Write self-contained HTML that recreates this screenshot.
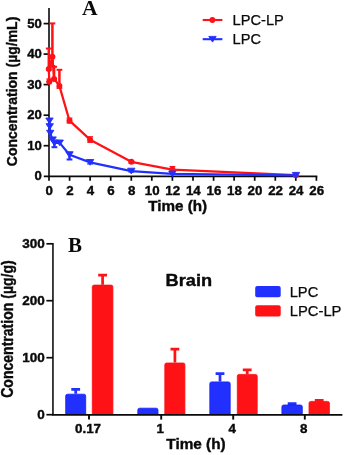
<!DOCTYPE html><html><head><meta charset="utf-8"><title>chart</title><style>html,body{margin:0;padding:0;background:#fff}svg{display:block;filter:blur(.35px)}text{font-family:"Liberation Sans",Arial,sans-serif}.b{font-weight:bold;stroke:#0a0a0a;stroke-width:.4px}.r{stroke:#0a0a0a;stroke-width:.25px}.s{font-family:"Liberation Serif","Times New Roman",serif;font-weight:bold}</style></head><body>
<svg width="346" height="455" viewBox="0 0 346 455">
<rect width="346" height="455" fill="#fff"/>
<g id="A">
<path d="M49.0 8V177.2M43.8 176.4H317.3" stroke="#0a0a0a" stroke-width="1.6" fill="none"/>
<text class="b" x="41.8" y="180.2" font-size="13.1" text-anchor="end" fill="#0a0a0a">0</text>
<path d="M43.6 145.7H49.0" stroke="#0a0a0a" stroke-width="1.7"/>
<text class="b" x="41.8" y="149.7" font-size="13.1" text-anchor="end" fill="#0a0a0a">10</text>
<path d="M43.6 115.2H49.0" stroke="#0a0a0a" stroke-width="1.7"/>
<text class="b" x="41.8" y="119.2" font-size="13.1" text-anchor="end" fill="#0a0a0a">20</text>
<path d="M43.6 84.6H49.0" stroke="#0a0a0a" stroke-width="1.7"/>
<text class="b" x="41.8" y="88.6" font-size="13.1" text-anchor="end" fill="#0a0a0a">30</text>
<path d="M43.6 54.1H49.0" stroke="#0a0a0a" stroke-width="1.7"/>
<text class="b" x="41.8" y="58.1" font-size="13.1" text-anchor="end" fill="#0a0a0a">40</text>
<path d="M43.6 23.6H49.0" stroke="#0a0a0a" stroke-width="1.7"/>
<text class="b" x="41.8" y="27.6" font-size="13.1" text-anchor="end" fill="#0a0a0a">50</text>
<path d="M49.0 176.4V180.8" stroke="#0a0a0a" stroke-width="1.7"/>
<text class="b" x="49.3" y="194.7" font-size="13.3" text-anchor="middle" fill="#0a0a0a">0</text>
<path d="M69.6 176.4V180.8" stroke="#0a0a0a" stroke-width="1.7"/>
<text class="b" x="69.9" y="194.7" font-size="13.3" text-anchor="middle" fill="#0a0a0a">2</text>
<path d="M90.1 176.4V180.8" stroke="#0a0a0a" stroke-width="1.7"/>
<text class="b" x="90.4" y="194.7" font-size="13.3" text-anchor="middle" fill="#0a0a0a">4</text>
<path d="M110.7 176.4V180.8" stroke="#0a0a0a" stroke-width="1.7"/>
<text class="b" x="111.0" y="194.7" font-size="13.3" text-anchor="middle" fill="#0a0a0a">6</text>
<path d="M131.3 176.4V180.8" stroke="#0a0a0a" stroke-width="1.7"/>
<text class="b" x="131.6" y="194.7" font-size="13.3" text-anchor="middle" fill="#0a0a0a">8</text>
<path d="M151.8 176.4V180.8" stroke="#0a0a0a" stroke-width="1.7"/>
<text class="b" x="152.2" y="194.7" font-size="13.3" text-anchor="middle" fill="#0a0a0a">10</text>
<path d="M172.4 176.4V180.8" stroke="#0a0a0a" stroke-width="1.7"/>
<text class="b" x="172.7" y="194.7" font-size="13.3" text-anchor="middle" fill="#0a0a0a">12</text>
<path d="M193.0 176.4V180.8" stroke="#0a0a0a" stroke-width="1.7"/>
<text class="b" x="193.3" y="194.7" font-size="13.3" text-anchor="middle" fill="#0a0a0a">14</text>
<path d="M213.6 176.4V180.8" stroke="#0a0a0a" stroke-width="1.7"/>
<text class="b" x="213.9" y="194.7" font-size="13.3" text-anchor="middle" fill="#0a0a0a">16</text>
<path d="M234.1 176.4V180.8" stroke="#0a0a0a" stroke-width="1.7"/>
<text class="b" x="234.4" y="194.7" font-size="13.3" text-anchor="middle" fill="#0a0a0a">18</text>
<path d="M254.7 176.4V180.8" stroke="#0a0a0a" stroke-width="1.7"/>
<text class="b" x="255.0" y="194.7" font-size="13.3" text-anchor="middle" fill="#0a0a0a">20</text>
<path d="M275.3 176.4V180.8" stroke="#0a0a0a" stroke-width="1.7"/>
<text class="b" x="275.6" y="194.7" font-size="13.3" text-anchor="middle" fill="#0a0a0a">22</text>
<path d="M295.8 176.4V180.8" stroke="#0a0a0a" stroke-width="1.7"/>
<text class="b" x="296.1" y="194.7" font-size="13.3" text-anchor="middle" fill="#0a0a0a">24</text>
<path d="M316.4 176.4V180.8" stroke="#0a0a0a" stroke-width="1.7"/>
<text class="b" x="316.7" y="194.7" font-size="13.3" text-anchor="middle" fill="#0a0a0a">26</text>
<text class="b" x="148.2" y="211.3" font-size="14.8" textLength="59" lengthAdjust="spacingAndGlyphs" fill="#0a0a0a">Time (h)</text>
<text class="b" transform="translate(17.2 166.2) rotate(-90)" font-size="15.5" textLength="149.5" lengthAdjust="spacingAndGlyphs" fill="#0a0a0a">Concentration (µg/mL)</text>
<text class="s" x="82.1" y="14.8" font-size="20.5" textLength="15.6" lengthAdjust="spacingAndGlyphs" fill="#0a0a0a">A</text>
<polyline fill="none" stroke="#ff1216" stroke-width="2.25" stroke-linejoin="round" points="49.3,81.7 48.8,69.0 52.4,56.7 54.1,78.9 59.4,85.9 69.5,120.7 90.1,139.7 131.3,161.8 172.4,169.6 295.8,175.2"/>
<path d="M49.3 79.0V81.7" stroke="#ff1216" stroke-width="2.5" fill="none"/>
<path d="M46.4 79.0h5.8" stroke="#ff1216" stroke-width="1.3" fill="none"/>
<path d="M46.4 81.7h5.8" stroke="#ff1216" stroke-width="1.3" fill="none"/>
<circle cx="49.3" cy="81.7" r="3" fill="#ff1216"/>
<path d="M48.8 48.5V70.0" stroke="#ff1216" stroke-width="2.5" fill="none"/>
<path d="M45.9 48.5h5.8" stroke="#ff1216" stroke-width="2.0" fill="none"/>
<path d="M45.9 70.0h5.8" stroke="#ff1216" stroke-width="1.3" fill="none"/>
<circle cx="48.8" cy="69.0" r="3" fill="#ff1216"/>
<path d="M52.4 23.4V66.0" stroke="#ff1216" stroke-width="2.5" fill="none"/>
<path d="M49.5 23.4h5.8" stroke="#ff1216" stroke-width="2.0" fill="none"/>
<path d="M49.5 66.0h5.8" stroke="#ff1216" stroke-width="2.0" fill="none"/>
<circle cx="52.4" cy="56.7" r="3" fill="#ff1216"/>
<path d="M54.1 66.8V80.0" stroke="#ff1216" stroke-width="2.5" fill="none"/>
<path d="M51.2 66.8h5.8" stroke="#ff1216" stroke-width="2.0" fill="none"/>
<path d="M51.2 80.0h5.8" stroke="#ff1216" stroke-width="1.3" fill="none"/>
<circle cx="54.1" cy="78.9" r="3" fill="#ff1216"/>
<path d="M59.4 69.8V88.2" stroke="#ff1216" stroke-width="2.5" fill="none"/>
<path d="M56.5 69.8h5.8" stroke="#ff1216" stroke-width="2.0" fill="none"/>
<path d="M56.5 88.2h5.8" stroke="#ff1216" stroke-width="1.3" fill="none"/>
<circle cx="59.4" cy="85.9" r="3" fill="#ff1216"/>
<path d="M69.5 118.1V122.9" stroke="#ff1216" stroke-width="2.5" fill="none"/>
<path d="M66.6 118.1h5.8" stroke="#ff1216" stroke-width="1.3" fill="none"/>
<path d="M66.6 122.9h5.8" stroke="#ff1216" stroke-width="1.3" fill="none"/>
<circle cx="69.5" cy="120.7" r="3" fill="#ff1216"/>
<path d="M90.1 136.8V142.2" stroke="#ff1216" stroke-width="2.5" fill="none"/>
<path d="M87.2 136.8h5.8" stroke="#ff1216" stroke-width="1.3" fill="none"/>
<path d="M87.2 142.2h5.8" stroke="#ff1216" stroke-width="1.3" fill="none"/>
<circle cx="90.1" cy="139.7" r="3" fill="#ff1216"/>
<path d="M131.3 160.6V163.0" stroke="#ff1216" stroke-width="2.5" fill="none"/>
<path d="M128.4 160.6h5.8" stroke="#ff1216" stroke-width="1.3" fill="none"/>
<path d="M128.4 163.0h5.8" stroke="#ff1216" stroke-width="1.3" fill="none"/>
<circle cx="131.3" cy="161.8" r="3" fill="#ff1216"/>
<path d="M172.4 166.6V170.3" stroke="#ff1216" stroke-width="2.5" fill="none"/>
<path d="M169.5 166.6h5.8" stroke="#ff1216" stroke-width="1.3" fill="none"/>
<path d="M169.5 170.3h5.8" stroke="#ff1216" stroke-width="1.3" fill="none"/>
<circle cx="172.4" cy="169.6" r="3" fill="#ff1216"/>
<circle cx="295.8" cy="175.2" r="3" fill="#ff1216"/>
<polyline fill="none" stroke="#2230ff" stroke-width="2.25" stroke-linejoin="round" points="49.5,120.9 49.7,126.6 50.2,133.2 52.6,139.8 54.4,142.9 59.7,142.9 69.5,154.7 90.1,162.4 131.3,171.1 172.4,173.9 296.0,175.3"/>
<path d="M45.8 118.0h7.4L49.5 123.7z" fill="#2230ff" stroke="#2230ff" stroke-width=".9" stroke-linejoin="round"/>
<path d="M46.0 123.7h7.4L49.7 129.4z" fill="#2230ff" stroke="#2230ff" stroke-width=".9" stroke-linejoin="round"/>
<path d="M46.5 130.3h7.4L50.2 136.0z" fill="#2230ff" stroke="#2230ff" stroke-width=".9" stroke-linejoin="round"/>
<path d="M48.9 136.9h7.4L52.6 142.6z" fill="#2230ff" stroke="#2230ff" stroke-width=".9" stroke-linejoin="round"/>
<path d="M54.4 140.6V147.2" stroke="#2230ff" stroke-width="2.5" fill="none"/>
<path d="M51.5 140.6h5.8" stroke="#2230ff" stroke-width="1.3" fill="none"/>
<path d="M51.5 147.2h5.8" stroke="#2230ff" stroke-width="2.0" fill="none"/>
<path d="M50.7 140.0h7.4L54.4 145.7z" fill="#2230ff" stroke="#2230ff" stroke-width=".9" stroke-linejoin="round"/>
<path d="M56.0 140.0h7.4L59.7 145.7z" fill="#2230ff" stroke="#2230ff" stroke-width=".9" stroke-linejoin="round"/>
<path d="M69.5 152.4V159.5" stroke="#2230ff" stroke-width="2.5" fill="none"/>
<path d="M66.6 152.4h5.8" stroke="#2230ff" stroke-width="1.3" fill="none"/>
<path d="M66.6 159.5h5.8" stroke="#2230ff" stroke-width="2.0" fill="none"/>
<path d="M65.8 151.8h7.4L69.5 157.5z" fill="#2230ff" stroke="#2230ff" stroke-width=".9" stroke-linejoin="round"/>
<path d="M90.1 161.0V163.9" stroke="#2230ff" stroke-width="2.5" fill="none"/>
<path d="M87.2 161.0h5.8" stroke="#2230ff" stroke-width="1.3" fill="none"/>
<path d="M87.2 163.9h5.8" stroke="#2230ff" stroke-width="1.3" fill="none"/>
<path d="M86.4 159.5h7.4L90.1 165.2z" fill="#2230ff" stroke="#2230ff" stroke-width=".9" stroke-linejoin="round"/>
<path d="M131.3 170.0V172.0" stroke="#2230ff" stroke-width="2.5" fill="none"/>
<path d="M128.4 170.0h5.8" stroke="#2230ff" stroke-width="1.3" fill="none"/>
<path d="M128.4 172.0h5.8" stroke="#2230ff" stroke-width="1.3" fill="none"/>
<path d="M127.6 168.2h7.4L131.3 173.9z" fill="#2230ff" stroke="#2230ff" stroke-width=".9" stroke-linejoin="round"/>
<path d="M168.7 171.0h7.4L172.4 176.7z" fill="#2230ff" stroke="#2230ff" stroke-width=".9" stroke-linejoin="round"/>
<path d="M292.3 172.4h7.4L296.0 178.1z" fill="#2230ff" stroke="#2230ff" stroke-width=".9" stroke-linejoin="round"/>
<path d="M202.7 20H222.4" stroke="#ff1216" stroke-width="2.1"/><circle cx="212.4" cy="20" r="2.9" fill="#ff1216"/>
<path d="M202.7 39.2H222.4" stroke="#2230ff" stroke-width="2.1"/><path d="M208.8 36.4h7.4l-3.7 5.7z" fill="#2230ff" stroke="#2230ff" stroke-width=".9" stroke-linejoin="round"/>
<text class="r" x="232.6" y="24.9" font-size="14.4" textLength="51.3" lengthAdjust="spacingAndGlyphs" fill="#0a0a0a">LPC-LP</text>
<text class="r" x="232.6" y="44" font-size="14.4" textLength="28.4" lengthAdjust="spacingAndGlyphs" fill="#0a0a0a">LPC</text>
</g>
<g id="B">
<path d="M46.4 414.7H53" stroke="#0a0a0a" stroke-width="1.7"/>
<text class="b" x="44.8" y="419.3" font-size="13.5" text-anchor="end" fill="#0a0a0a">0</text>
<path d="M46.4 357.7H53" stroke="#0a0a0a" stroke-width="1.7"/>
<text class="b" x="44.8" y="362.3" font-size="13.5" text-anchor="end" fill="#0a0a0a">100</text>
<path d="M46.4 300.7H53" stroke="#0a0a0a" stroke-width="1.7"/>
<text class="b" x="44.8" y="305.3" font-size="13.5" text-anchor="end" fill="#0a0a0a">200</text>
<path d="M46.4 243.8H53" stroke="#0a0a0a" stroke-width="1.7"/>
<text class="b" x="44.8" y="248.4" font-size="13.5" text-anchor="end" fill="#0a0a0a">300</text>
<path d="M89 414.9V419.6" stroke="#0a0a0a" stroke-width="1.9"/>
<text class="b" x="88" y="433" font-size="13.4" text-anchor="middle" fill="#0a0a0a">0.17</text>
<path d="M161.2 414.9V419.6" stroke="#0a0a0a" stroke-width="1.9"/>
<text class="b" x="160.2" y="433" font-size="13.4" text-anchor="middle" fill="#0a0a0a">1</text>
<path d="M233.2 414.9V419.6" stroke="#0a0a0a" stroke-width="1.9"/>
<text class="b" x="232.2" y="433" font-size="13.4" text-anchor="middle" fill="#0a0a0a">4</text>
<path d="M304.8 414.9V419.6" stroke="#0a0a0a" stroke-width="1.9"/>
<text class="b" x="303.8" y="433" font-size="13.4" text-anchor="middle" fill="#0a0a0a">8</text>
<text class="b" x="166.3" y="449.4" font-size="15.2" textLength="59.4" lengthAdjust="spacingAndGlyphs" fill="#0a0a0a">Time (h)</text>
<text class="b" transform="translate(13.2 397.8) rotate(-90)" font-size="16" textLength="137.5" lengthAdjust="spacingAndGlyphs" fill="#0a0a0a">Concentration (µg/g)</text>
<text class="s" x="67.9" y="251.5" font-size="20.5" textLength="14" lengthAdjust="spacingAndGlyphs" fill="#0a0a0a">B</text>
<text class="b" x="165.6" y="285.5" font-size="16.8" textLength="46.6" lengthAdjust="spacingAndGlyphs" fill="#0a0a0a">Brain</text>
<path d="M75.7 393.8V389.3M71.3 389.3h8.8" stroke="#2230ff" stroke-width="2.7" fill="none"/>
<path d="M65.7 414.4V396.0q0 -1.8 1.8 -1.8H83.9q1.8 0 1.8 1.8V414.4z" fill="#2230ff" stroke="#1420f6" stroke-width=".8"/>
<path d="M102.6 284.7V275.1M98.2 275.1h8.8" stroke="#ff1216" stroke-width="2.7" fill="none"/>
<path d="M92.3 414.4V286.9q0 -1.8 1.8 -1.8H111.1q1.8 0 1.8 1.8V414.4z" fill="#ff1216" stroke="#fa0c12" stroke-width=".8"/>
<path d="M137.8 414.4V410.0q0 -1.8 1.8 -1.8H156.2q1.8 0 1.8 1.8V414.4z" fill="#2230ff" stroke="#1420f6" stroke-width=".8"/>
<path d="M174.9 362.6V349.2M170.5 349.2h8.8" stroke="#ff1216" stroke-width="2.7" fill="none"/>
<path d="M164.8 414.4V364.8q0 -1.8 1.8 -1.8H183.1q1.8 0 1.8 1.8V414.4z" fill="#ff1216" stroke="#fa0c12" stroke-width=".8"/>
<path d="M220.0 381.5V373.6M215.6 373.6h8.8" stroke="#2230ff" stroke-width="2.7" fill="none"/>
<path d="M209.8 414.4V383.7q0 -1.8 1.8 -1.8H228.4q1.8 0 1.8 1.8V414.4z" fill="#2230ff" stroke="#1420f6" stroke-width=".8"/>
<path d="M247.2 374.0V369.8M242.8 369.8h8.8" stroke="#ff1216" stroke-width="2.7" fill="none"/>
<path d="M237.3 414.4V376.2q0 -1.8 1.8 -1.8H255.4q1.8 0 1.8 1.8V414.4z" fill="#ff1216" stroke="#fa0c12" stroke-width=".8"/>
<path d="M292.1 404.6V403.7M287.7 403.7h8.8" stroke="#2230ff" stroke-width="2.7" fill="none"/>
<path d="M281.9 414.4V406.8q0 -1.8 1.8 -1.8H300.5q1.8 0 1.8 1.8V414.4z" fill="#2230ff" stroke="#1420f6" stroke-width=".8"/>
<path d="M319.2 401.0V400.4M314.8 400.4h8.8" stroke="#ff1216" stroke-width="2.7" fill="none"/>
<path d="M309.0 414.4V403.2q0 -1.8 1.8 -1.8H327.6q1.8 0 1.8 1.8V414.4z" fill="#ff1216" stroke="#fa0c12" stroke-width=".8"/>
<path d="M52.95 243V415.6M52.1 414.85H342.4" stroke="#0a0a0a" stroke-width="1.55" fill="none"/>
<rect x="255.2" y="285.9" width="25.5" height="11.4" rx="2" fill="#2230ff"/>
<rect x="255.2" y="305.2" width="25.5" height="11.2" rx="2" fill="#ff1216"/>
<text class="r" x="289.7" y="296.7" font-size="14.6" textLength="28.6" lengthAdjust="spacingAndGlyphs" fill="#0a0a0a">LPC</text>
<text class="r" x="289.7" y="316.3" font-size="14.6" textLength="51.8" lengthAdjust="spacingAndGlyphs" fill="#0a0a0a">LPC-LP</text>
</g>
</svg></body></html>
